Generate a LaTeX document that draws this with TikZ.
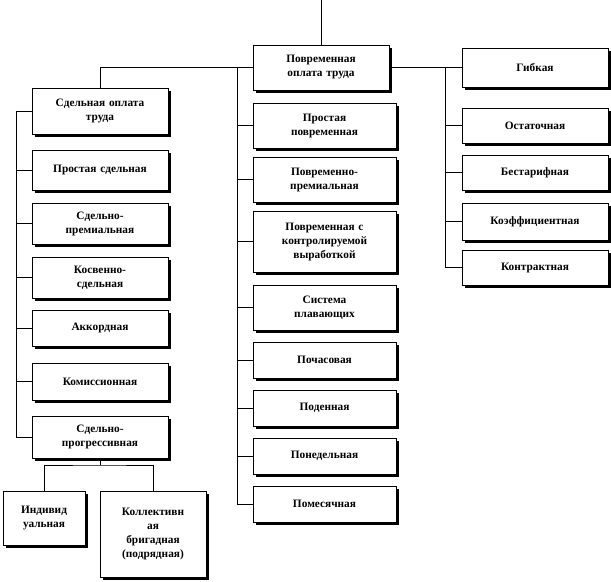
\documentclass[tikz,border=0pt]{standalone}
\usepackage{fontspec}
\setmainfont{Liberation Serif}
\usetikzlibrary{shadows}
\tikzset{
  box/.style={draw=black,thin,fill=white,align=center,inner sep=1pt,
    font=\fontsize{8.5}{10.5}\selectfont\bfseries,
    drop shadow={opacity=1,fill=black,shadow xshift=2.2pt,shadow yshift=-2.2pt}},
  link/.style={draw=black,thin}
}
\newcommand{\WageBox}[6]{% #1 name, #2 x0, #3 y0, #4 x1, #5 y1, #6 text
  \node[box,minimum width=(#4-#2)*0.75pt,minimum height=(#5-#3)*0.75pt,
    text width=(#4-#2)*0.75pt-4pt] (#1) at ({(#2+#4)/2},{(#3+#5)/2}) {#6};}
\begin{document}
\begin{tikzpicture}[x=0.75pt,y=-0.75pt]
\useasboundingbox (0,0) rectangle (611,582);

% Boxes
\WageBox{pov}{253}{45}{389}{90}{Повременная\\оплата труда}
\WageBox{gib}{462}{48}{608}{87}{Гибкая}
\WageBox{ost}{462}{108}{608}{143}{Остаточная}
\WageBox{bes}{462}{155}{608}{190}{Бестарифная}
\WageBox{koe}{462}{203}{608}{240}{Коэффициентная}
\WageBox{kon}{462}{250}{608}{285}{Контрактная}

\WageBox{prp}{253}{103}{396}{148}{Простая\\повременная}
\WageBox{ppr}{253}{157}{396}{202}{Повременно-\\премиальная}
\WageBox{pkv}{253}{211}{396}{272}{Повременная с\\контролируемой\\выработкой}
\WageBox{spl}{253}{285}{396}{330}{Система\\плавающих}
\WageBox{pch}{253}{342}{396}{378}{Почасовая}
\WageBox{pdn}{253}{390}{396}{426}{Поденная}
\WageBox{pnd}{253}{438}{396}{474}{Понедельная}
\WageBox{pms}{253}{486}{396}{522}{Помесячная}

\WageBox{sdel}{32}{88}{168}{134}{Сдельная оплата\\труда}
\WageBox{psd}{32}{150}{168}{190}{Простая сдельная}
\WageBox{spr}{32}{203}{168}{244}{Сдельно-\\премиальная}
\WageBox{ksd}{32}{257}{168}{298}{Косвенно-\\сдельная}
\WageBox{akk}{32}{310}{168}{346}{Аккордная}
\WageBox{kom}{32}{363}{168}{400}{Комиссионная}
\WageBox{sprog}{32}{416}{168}{458}{Сдельно-\\прогрессивная}
\WageBox{ind}{3}{491}{85}{545}{Индивид\\уальная}
\WageBox{kol}{100}{491}{206}{577}{Коллективн\\ая\\бригадная\\(подрядная)}

% Buses
\coordinate (top) at (321,0);
\coordinate (mbus) at (237,67.5);
\coordinate (lbus) at (16,111);
\coordinate (rbus) at (445,67.5);
\coordinate (bbus) at (100,465);

% Connectors
\draw[link] (top) -- (pov.north);
\draw[link] (pov.west) -| (sdel.north);
\draw[link] (pov.east) -- (gib.west);
\foreach \n in {ost,bes,koe,kon} \draw[link] (rbus) |- (\n.west);
\foreach \n in {prp,ppr,pkv,spl,pch,pdn,pnd,pms} \draw[link] (mbus) |- (\n.west);
\draw[link] (sdel.west) -- (lbus);
\foreach \n in {psd,spr,ksd,akk,kom,sprog} \draw[link] (lbus) |- (\n.west);
\draw[link] (sprog.south) -- (bbus);
\draw[link] (ind.north) |- (bbus) -| (kol.north);
\end{tikzpicture}
\end{document}
